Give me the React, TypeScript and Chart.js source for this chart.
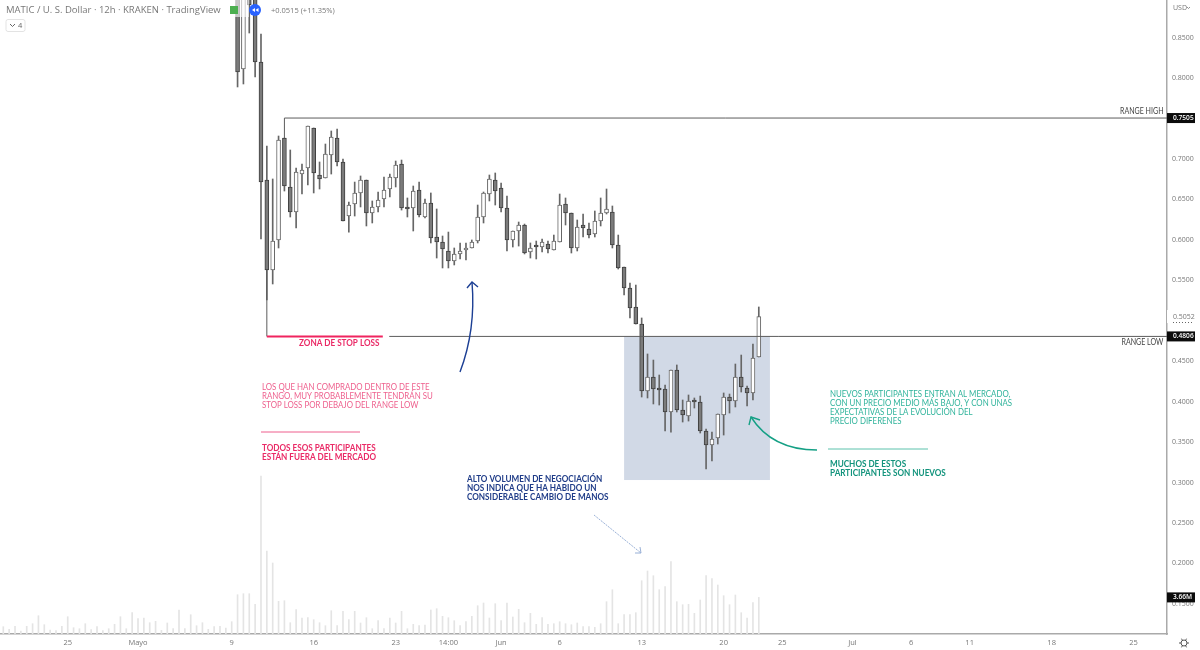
import React, { useEffect, useRef } from "react";
import { Chart, registerables } from "chart.js";

Chart.register(...registerables);

// candles start at this bar index, earlier bars are above the visible price range
const firstCandle = 40;

const opens = [
  0.93, 0.8111, 0.905, 0.9, 0.8198, 0.6739, 0.5627, 0.5998, 0.7258, 0.6653,
  0.6344, 0.6813, 0.6888, 0.7382, 0.6801, 0.6764, 0.7048, 0.7258, 0.6962, 0.6294,
  0.6443, 0.6579, 0.6739, 0.6331, 0.6406, 0.6504, 0.6628, 0.6764, 0.6937, 0.6393,
  0.6393, 0.6616, 0.6282, 0.6455, 0.6035, 0.5973, 0.5862, 0.5738, 0.5825, 0.5874,
  0.5899, 0.5985, 0.6282, 0.6566, 0.6739, 0.664, 0.6393, 0.5998, 0.6109, 0.6183,
  0.5849, 0.5923, 0.5911, 0.5948, 0.5874, 0.5973, 0.6443, 0.6331, 0.5899, 0.6183,
  0.6134, 0.6072, 0.6232, 0.6331, 0.6344, 0.5936, 0.5664, 0.5404, 0.517, 0.4959,
  0.4131, 0.4304, 0.4156, 0.4156, 0.3872, 0.4391, 0.3896, 0.3822, 0.4008, 0.3995,
  0.3637, 0.3464, 0.355, 0.3835, 0.4057, 0.4008, 0.4304, 0.4168, 0.4107, 0.4552,
];
const highs = [
  0.96, 0.95, 0.93, 0.92, 0.8544, 0.7159, 0.6752, 0.7283, 0.7258, 0.711,
  0.6888, 0.6937, 0.7407, 0.7382, 0.6962, 0.7184, 0.7345, 0.737, 0.6999, 0.6467,
  0.6714, 0.6789, 0.6739, 0.648, 0.6591, 0.6776, 0.6813, 0.6974, 0.6986, 0.6517,
  0.6665, 0.6714, 0.6504, 0.6579, 0.6381, 0.6047, 0.6096, 0.5899, 0.5961, 0.5961,
  0.5998, 0.643, 0.6591, 0.6801, 0.6826, 0.6702, 0.6541, 0.6109, 0.622, 0.6195,
  0.5961, 0.5985, 0.601, 0.5985, 0.6059, 0.6566, 0.6517, 0.6331, 0.6245, 0.6319,
  0.6208, 0.6356, 0.6517, 0.6628, 0.6418, 0.6059, 0.5664, 0.5466, 0.5441, 0.5034,
  0.4589, 0.4514, 0.4329, 0.4205, 0.4391, 0.4453, 0.402, 0.4082, 0.4045, 0.4069,
  0.3662, 0.3624, 0.3847, 0.4107, 0.4094, 0.4465, 0.4576, 0.4193, 0.4712, 0.517,
];
const lows = [
  0.7889, 0.7926, 0.8556, 0.8012, 0.601, 0.5256, 0.5454, 0.5899, 0.6603, 0.6282,
  0.6146, 0.6566, 0.6677, 0.6579, 0.6628, 0.6764, 0.6813, 0.6912, 0.6232, 0.6096,
  0.6294, 0.6406, 0.6171, 0.6208, 0.6344, 0.6406, 0.6529, 0.6653, 0.6368, 0.6282,
  0.6109, 0.6282, 0.627, 0.5961, 0.5775, 0.5652, 0.5652, 0.5689, 0.5763, 0.575,
  0.5899, 0.5961, 0.6208, 0.648, 0.643, 0.6344, 0.5862, 0.5911, 0.5923, 0.5825,
  0.5775, 0.5763, 0.5849, 0.5837, 0.5874, 0.5973, 0.6183, 0.5837, 0.5862, 0.6035,
  0.6022, 0.6035, 0.6171, 0.6319, 0.5899, 0.5639, 0.5318, 0.5034, 0.4959, 0.4057,
  0.4045, 0.3971, 0.3958, 0.3637, 0.3624, 0.3872, 0.3748, 0.376, 0.3921, 0.3612,
  0.3167, 0.3266, 0.3476, 0.3587, 0.3859, 0.3934, 0.4119, 0.3946, 0.402, 0.4552,
];
const closes = [
  0.8074, 0.92, 0.8902, 0.8198, 0.6714, 0.5627, 0.5985, 0.7234, 0.6665, 0.6344,
  0.6838, 0.6863, 0.7407, 0.6826, 0.6752, 0.7061, 0.7271, 0.6962, 0.6232, 0.643,
  0.6579, 0.6739, 0.6331, 0.6406, 0.6492, 0.6616, 0.6776, 0.6925, 0.6393, 0.6381,
  0.6603, 0.6307, 0.6455, 0.6022, 0.5973, 0.5886, 0.5738, 0.5825, 0.5862, 0.5899,
  0.5973, 0.6282, 0.6579, 0.6752, 0.6603, 0.6393, 0.5998, 0.6109, 0.6183, 0.5837,
  0.5899, 0.5911, 0.5973, 0.5886, 0.5985, 0.643, 0.6331, 0.5899, 0.6158, 0.6146,
  0.6059, 0.6232, 0.6331, 0.6381, 0.5936, 0.5652, 0.5404, 0.5157, 0.4959, 0.4131,
  0.4304, 0.4156, 0.4144, 0.3872, 0.4391, 0.3896, 0.3835, 0.4008, 0.3995, 0.3637,
  0.3464, 0.3538, 0.3847, 0.4057, 0.4008, 0.4304, 0.4181, 0.4107, 0.4539, 0.5052,
];

// volume in millions, one per bar from index 0
const volumes = [
  0.73, 0.47, 0.77, 0.3, 0.77, 1.03, 1.83, 0.93, 0.4, 0.33,
  0.77, 1.73, 0.63, 0.53, 1.03, 0.43, 0.73, 0.33, 0.53, 0.97,
  1.73, 0.53, 2.13, 1.53, 1.6, 1.13, 1.27, 0.37, 1.1, 0.53,
  2.4, 0.53, 1.93, 0.83, 1.13, 0.47, 0.73, 0.77, 0.6, 1.23,
  3.93, 4.03, 4.03, 2.97, 15.8, 8.3, 7.1, 3.27, 3.33, 1.13,
  2.43, 1.6, 1.63, 1.43, 1.13, 0.83, 2.33, 0.83, 2.27, 1.43,
  2.27, 1.1, 1.63, 0.53, 1.33, 0.53, 1.6, 1.1, 2.27, 0.53,
  0.97, 0.83, 0.9, 2.4, 2.53, 1.77, 1.63, 1.33, 0.83, 1.23,
  1.77, 2.83, 3.1, 1.6, 3.03, 1.33, 3.1, 1.7, 2.47, 1.13,
  2.07, 0.97, 1.63, 0.97, 1.03, 1.23, 1.03, 0.93, 1.1, 0.73,
  0.73, 0.67, 1.03, 3.23, 4.43, 1.03, 1.93, 1.93, 2.13, 5.33,
  6.3, 5.83, 4.43, 4.73, 7.23, 3.23, 2.93, 2.97, 2.07, 3.4,
  5.83, 5.53, 4.9, 3.83, 2.93, 3.9, 2.13, 1.6, 3.13, 3.66,
];

const priceTicks = [0.85, 0.8, 0.75, 0.7, 0.65, 0.6, 0.55, 0.45, 0.4, 0.35, 0.3, 0.25, 0.2, 0.15];
const timeTickBars = [11, 23, 39, 53, 67, 76, 85, 95, 109, 123, 133, 145, 155, 165, 179, 193];
const timeTickLabels = ["25", "Mayo", "9", "16", "23", "14:00", "Jun", "6", "13", "20", "25", "Jul", "6", "11", "18", "25"];

const rangeHigh = 0.7505;
const rangeLow = 0.4806;
const lastPrice = 0.5052;

const PINK = "#ea2a66";
const PINK_SOFT = "#ee5f8d";
const NAVY = "#1f3c88";
const GREEN = "#12937c";
const GREEN_SOFT = "#2fb39b";
const UI_FONT = '"Open Sans"';
const NOTE_FONT = "Lato";

const notes: [string, number, number, string, boolean][] = [
  ["ZONA DE STOP LOSS", 299, 343, PINK, true],
  ["LOS QUE HAN COMPRADO DENTRO DE ESTE", 262, 387, PINK_SOFT, false],
  ["RANGO, MUY PROBABLEMENTE TENDRÁN SU", 262, 396, PINK_SOFT, false],
  ["STOP LOSS POR DEBAJO DEL RANGE LOW", 262, 405, PINK_SOFT, false],
  ["TODOS ESOS PARTICIPANTES", 262, 448, PINK, true],
  ["ESTÁN FUERA DEL MERCADO", 262, 457, PINK, true],
  ["ALTO VOLUMEN DE NEGOCIACIÓN", 467, 479, NAVY, true],
  ["NOS INDICA QUE HA HABIDO UN", 467, 488, NAVY, true],
  ["CONSIDERABLE CAMBIO DE MANOS", 467, 497, NAVY, true],
  ["NUEVOS PARTICIPANTES ENTRAN AL MERCADO,", 830, 394, GREEN_SOFT, false],
  ["CON UN PRECIO MEDIO MÁS BAJO, Y CON UNAS", 830, 403, GREEN_SOFT, false],
  ["EXPECTATIVAS DE LA EVOLUCIÓN DEL", 830, 412, GREEN_SOFT, false],
  ["PRECIO DIFERENES", 830, 421, GREEN_SOFT, false],
  ["MUCHOS DE ESTOS", 830, 464, GREEN, true],
  ["PARTICIPANTES SON NUEVOS", 830, 473, GREEN, true],
];

// blue box behind the breakdown, drawn under the candles
const zoneBox = {
  id: "zoneBox",
  beforeDatasetsDraw(chart: any) {
    const { x, y } = chart.scales;
    const ctx = chart.ctx;
    ctx.save();
    ctx.fillStyle = "#d1d9e6";
    const left = x.getPixelForValue(106);
    const top = y.getPixelForValue(rangeLow);
    ctx.fillRect(left, top, x.getPixelForValue(130.9) - left, y.getPixelForValue(0.3031) - top);
    ctx.restore();
  },
};

function line(ctx: any, pts: number[][], color: string, width = 1) {
  ctx.strokeStyle = color;
  ctx.lineWidth = width;
  ctx.beginPath();
  pts.forEach((p, i) => (i ? ctx.lineTo(p[0], p[1]) : ctx.moveTo(p[0], p[1])));
  ctx.stroke();
}

// the hand-written note font is tall and narrow, Lato squeezed gets close
function narrowText(ctx: any, text: string, x: number, y: number, squeeze: number) {
  ctx.save();
  ctx.translate(x, y);
  ctx.scale(squeeze, 1);
  ctx.fillText(text, 0, 0);
  ctx.restore();
}

function priceTag(ctx: any, label: string, y: number) {
  ctx.fillStyle = "#0b0b0b";
  ctx.fillRect(1167, y - 5, 28, 10);
  ctx.fillStyle = "#fff";
  ctx.font = `600 6.6px ${UI_FONT}`;
  ctx.fillText(label, 1173, y);
}

const overlay = {
  id: "overlay",
  afterDraw(chart: any) {
    const { x, y, vol } = chart.scales;
    const ctx = chart.ctx;
    const right = chart.chartArea.right;
    const hi = y.getPixelForValue(rangeHigh);
    const lo = y.getPixelForValue(rangeLow);
    ctx.save();
    ctx.textBaseline = "middle";
    ctx.lineCap = "butt";

    // range lines
    const hiX = x.getPixelForValue(48);
    line(ctx, [[hiX, y.getPixelForValue(opens[48 - firstCandle])], [hiX, hi], [right, hi]], "#5c5c5c");
    const loX = x.getPixelForValue(45);
    line(ctx, [[loX, y.getPixelForValue(closes[45 - firstCandle])], [loX, lo]], "#5c5c5c");
    line(ctx, [[x.getPixelForValue(65.9), lo], [right, lo]], "#5c5c5c");
    line(ctx, [[loX, lo], [x.getPixelForValue(64.8), lo]], "#f0245f", 2);

    // dividers above the bold notes
    line(ctx, [[261, 432], [360, 432]], PINK_SOFT);
    line(ctx, [[828, 449], [928, 449]], "#5cc2ac");

    // blue arrow up to the range
    ctx.strokeStyle = "#1c3f94";
    ctx.lineWidth = 1.4;
    ctx.beginPath();
    ctx.moveTo(460, 372);
    ctx.quadraticCurveTo(476, 330, 472, 282);
    ctx.stroke();
    line(ctx, [[467, 288], [472, 282], [478, 287]], "#1c3f94", 1.4);

    // green arrow to the bottom of the move
    ctx.strokeStyle = "#15a085";
    ctx.beginPath();
    ctx.moveTo(817, 450);
    ctx.quadraticCurveTo(772, 450, 751, 417);
    ctx.stroke();
    line(ctx, [[749, 425], [751, 417], [760, 420]], "#15a085", 1.4);

    // thin dashed arrow to the volume
    ctx.setLineDash([2, 1]);
    line(ctx, [[594, 515], [641, 553]], "#7f9ccb", 0.8);
    ctx.setLineDash([]);
    line(ctx, [[635, 553], [641, 553], [640, 547]], "#7f9ccb", 0.8);

    // notes
    notes.forEach(([text, tx, ty, color, bold]) => {
      ctx.fillStyle = color;
      ctx.font = `${bold ? 700 : 400} 9.5px ${NOTE_FONT}`;
      narrowText(ctx, text, tx, ty, bold ? 0.857 : 0.83);
    });

    // RANGE labels
    ctx.fillStyle = "#444";
    ctx.font = `400 8.5px ${NOTE_FONT}`;
    narrowText(ctx, "RANGE HIGH", 1120, 111, 0.83);
    narrowText(ctx, "RANGE LOW", 1121.5, 342, 0.83);

    // header
    ctx.fillStyle = "rgba(255,255,255,0.6)";
    ctx.fillRect(230, 0, 19, 17);
    ctx.fillStyle = "#4caf50";
    ctx.fillRect(230, 6, 8, 8);
    ctx.fillStyle = "#2962ff";
    ctx.beginPath();
    ctx.arc(255, 10, 6, 0, Math.PI * 2);
    ctx.fill();
    ctx.fillStyle = "#fff";
    [252, 255.5].forEach((tx) => {
      ctx.beginPath();
      ctx.moveTo(tx, 10);
      ctx.lineTo(tx + 3, 8);
      ctx.lineTo(tx + 3, 12);
      ctx.fill();
    });
    ctx.fillStyle = "#777";
    ctx.font = `400 9.5px ${UI_FONT}`;
    ctx.fillText("MATIC / U. S. Dollar · 12h · KRAKEN · TradingView", 6, 10);
    ctx.font = `400 7.5px ${UI_FONT}`;
    ctx.fillText("+0.0515 (+11.35%)", 271, 11);

    // collapsed indicators button
    ctx.strokeStyle = "#dcdcdc";
    ctx.beginPath();
    ctx.roundRect(6, 19.5, 19, 12, 2);
    ctx.stroke();
    line(ctx, [[10, 24], [12.5, 26.5], [15, 24]], "#666");
    ctx.fillStyle = "#666";
    ctx.font = `400 7.5px ${UI_FONT}`;
    ctx.fillText("4", 18, 25.5);

    // price scale tags
    ctx.fillStyle = "#fff";
    ctx.fillRect(1167, 310, 30, 13);
    ctx.fillStyle = "#777";
    ctx.font = `400 7px ${UI_FONT}`;
    ctx.fillText("0.5052", 1173, y.getPixelForValue(lastPrice));
    ctx.setLineDash([1, 2]);
    line(ctx, [[1173, 322.5], [1194, 322.5]], "#666");
    ctx.setLineDash([]);
    priceTag(ctx, "0.7505", hi);
    priceTag(ctx, "0.4806", lo);
    priceTag(ctx, "3.66M", vol.getPixelForValue(volumes[129]));

    // currency + settings
    ctx.fillStyle = "#777";
    ctx.font = `400 7px ${UI_FONT}`;
    ctx.fillText("USD", 1173, 8);
    line(ctx, [[1187, 7], [1188.5, 8.5], [1190, 7]], "#777", 0.8);
    ctx.strokeStyle = "#555";
    ctx.lineWidth = 1;
    ctx.beginPath();
    ctx.arc(1184, 643, 3, 0, Math.PI * 2);
    ctx.stroke();
    for (let a = 0; a < 6; a++) {
      const c = Math.cos((a * Math.PI) / 3);
      const s = Math.sin((a * Math.PI) / 3);
      line(ctx, [[1184 + 3 * c, 643 + 3 * s], [1184 + 5 * c, 643 + 5 * s]], "#555");
    }
    ctx.restore();
  },
};

export default function App() {
  const canvasRef = useRef<HTMLCanvasElement>(null);

  useEffect(() => {
    if (!canvasRef.current) return;
    const bars = opens.map((_, i) => i + firstCandle);

    // label overhang would otherwise shrink the plot area
    const noPadding = (s: any) => {
      s.paddingTop = s.paddingBottom = s.paddingLeft = s.paddingRight = 0;
    };

    const chart = new Chart(canvasRef.current, {
      type: "bar",
      data: {
        datasets: [
          {
            label: "body",
            yAxisID: "y",
            order: 1,
            data: bars.map((x, i) => ({ x, y: [opens[i], closes[i]] })),
            barThickness: 4,
            minBarLength: 2,
            borderWidth: 1,
            borderSkipped: false,
            borderColor: opens.map((o, i) => (closes[i] < o ? "#3f3f3f" : "#666")),
            backgroundColor: opens.map((o, i) => (closes[i] < o ? "#7b7b7b" : "#ffffff")),
          },
          {
            label: "wick",
            yAxisID: "y",
            order: 2,
            data: bars.map((x, i) => ({ x, y: [lows[i], highs[i]] })),
            barThickness: 1,
            backgroundColor: "#666666",
          },
          {
            label: "volume",
            yAxisID: "vol",
            order: 3,
            data: volumes.map((v, x) => ({ x, y: v })),
            barThickness: 1,
            backgroundColor: "#e4e4e4",
          },
        ],
      } as any,
      options: {
        responsive: false,
        animation: false,
        layout: { padding: 0 },
        datasets: { bar: { grouped: false } },
        plugins: { legend: { display: false }, tooltip: { enabled: false } },
        scales: {
          x: {
            type: "linear",
            offset: false,
            min: -0.563,
            max: 198.7,
            grid: { display: false, drawTicks: false, offset: false },
            border: { color: "#aaa", width: 1.5 },
            afterFit: (s: any) => {
              s.height = 16;
              noPadding(s);
            },
            afterBuildTicks: (s: any) => {
              s.ticks = timeTickBars.map((value) => ({ value }));
            },
            ticks: {
              autoSkip: false,
              maxRotation: 0,
              padding: 4,
              color: "#777",
              font: { family: UI_FONT, size: 7.5 },
              callback: (v: any) => timeTickLabels[timeTickBars.indexOf(v)],
            },
          },
          y: {
            position: "right",
            min: 0.1128,
            max: 0.8964,
            grid: { display: false, drawTicks: false },
            border: { color: "#aaa", width: 1.5 },
            afterFit: (s: any) => {
              s.width = 33;
              noPadding(s);
            },
            afterBuildTicks: (s: any) => {
              s.ticks = priceTicks.map((value) => ({ value }));
            },
            ticks: {
              padding: 5,
              color: "#777",
              font: { family: UI_FONT, size: 7 },
              callback: (v: any) => Number(v).toFixed(4),
            },
          },
          vol: { display: false, min: 0, max: 63.4 },
        },
      } as any,
      plugins: [zoneBox, overlay],
    });

    return () => chart.destroy();
  }, []);

  return (
    <div style={{ position: "absolute", left: 0, top: 0, width: 1200, height: 650 }}>
      <canvas ref={canvasRef} width={1200} height={650} style={{ display: "block", filter: "blur(0.35px)" }} />
    </div>
  );
}
